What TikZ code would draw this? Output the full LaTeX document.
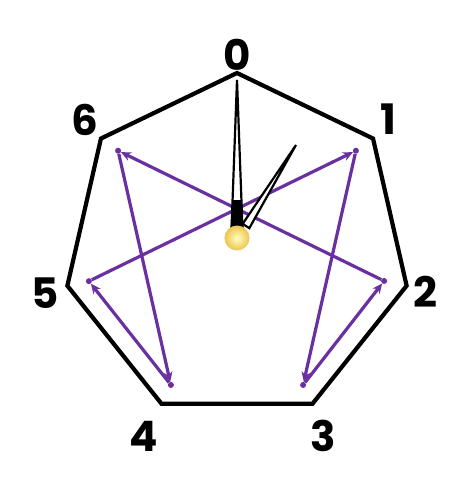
\documentclass[tikz,border=0pt]{standalone}
\usepackage{fontspec}
\setmainfont{Poppins}
\usetikzlibrary{arrows.meta}
\definecolor{plum}{RGB}{106,48,160}
\definecolor{brass}{RGB}{236,196,80}

\begin{document}
\begin{tikzpicture}[x=1pt, y=1pt, line join=miter,
  dot/.style={circle, fill=plum, inner sep=0pt, minimum size=6pt},
  hop/.style={plum, line width=3.2pt, -{Stealth[length=10pt,width=9pt]}},
  num/.style={font=\fontsize{42}{44}\selectfont\bfseries}]
\useasboundingbox (-237,-244) rectangle (237,247);

\coordinate (V0) at (90:174);
\coordinate (V1) at (38.57:174);
\coordinate (V2) at (-12.86:174);
\coordinate (V3) at (-64.29:174);
\coordinate (V4) at (-115.71:174);
\coordinate (V5) at (-167.14:174);
\coordinate (V6) at (141.43:174);

\draw [line width=4.2pt]
(V0)--(V1)--(V2)--(V3)--(V4)--(V5)--(V6)--cycle;

\node (D1) [dot] at (39:153) {};
\node (D2) [dot] at (-13:151) {};
\node (D3) [dot] at (-64.4:153) {};
\node (D4) [dot] at (-115.6:153) {};
\node (D5) [dot] at (-167:152) {};
\node (D6) [dot] at (141:153) {};

\draw [hop] (D5)--(D1);
\draw [hop] (D1)--(D3);
\draw [hop] (D3)--(D2);
\draw [hop] (D2)--(D6);
\draw [hop] (D6)--(D4);
\draw [hop] (D4)--(D5);

% hands
\draw [fill=white, line width=2.2pt] (-5.5,18)--(0,167)--(5.5,18)--cycle;
\fill (-6.5,18)--(-4.8,47)--(4.8,47)--(6.5,18)--cycle;
\draw [fill=white, line width=2.2pt] (5.7,23.2)--(59,102)--(12.3,18.8)--cycle;
\shade [inner color=yellow!25, outer color=brass] (0,9) circle (12.5);

\node (L0) [num] at (0,192) {0};
\node (L1) [num] at (151,128) {1};
\node (L2) [num] at (188,-45) {2};
\node (L3) [num] at (86,-189) {3};
\node (L4) [num] at (-93,-189) {4};
\node (L5) [num] at (-192,-46) {5};
\node (L6) [num] at (-152,127) {6};

\end{tikzpicture}
\end{document}
